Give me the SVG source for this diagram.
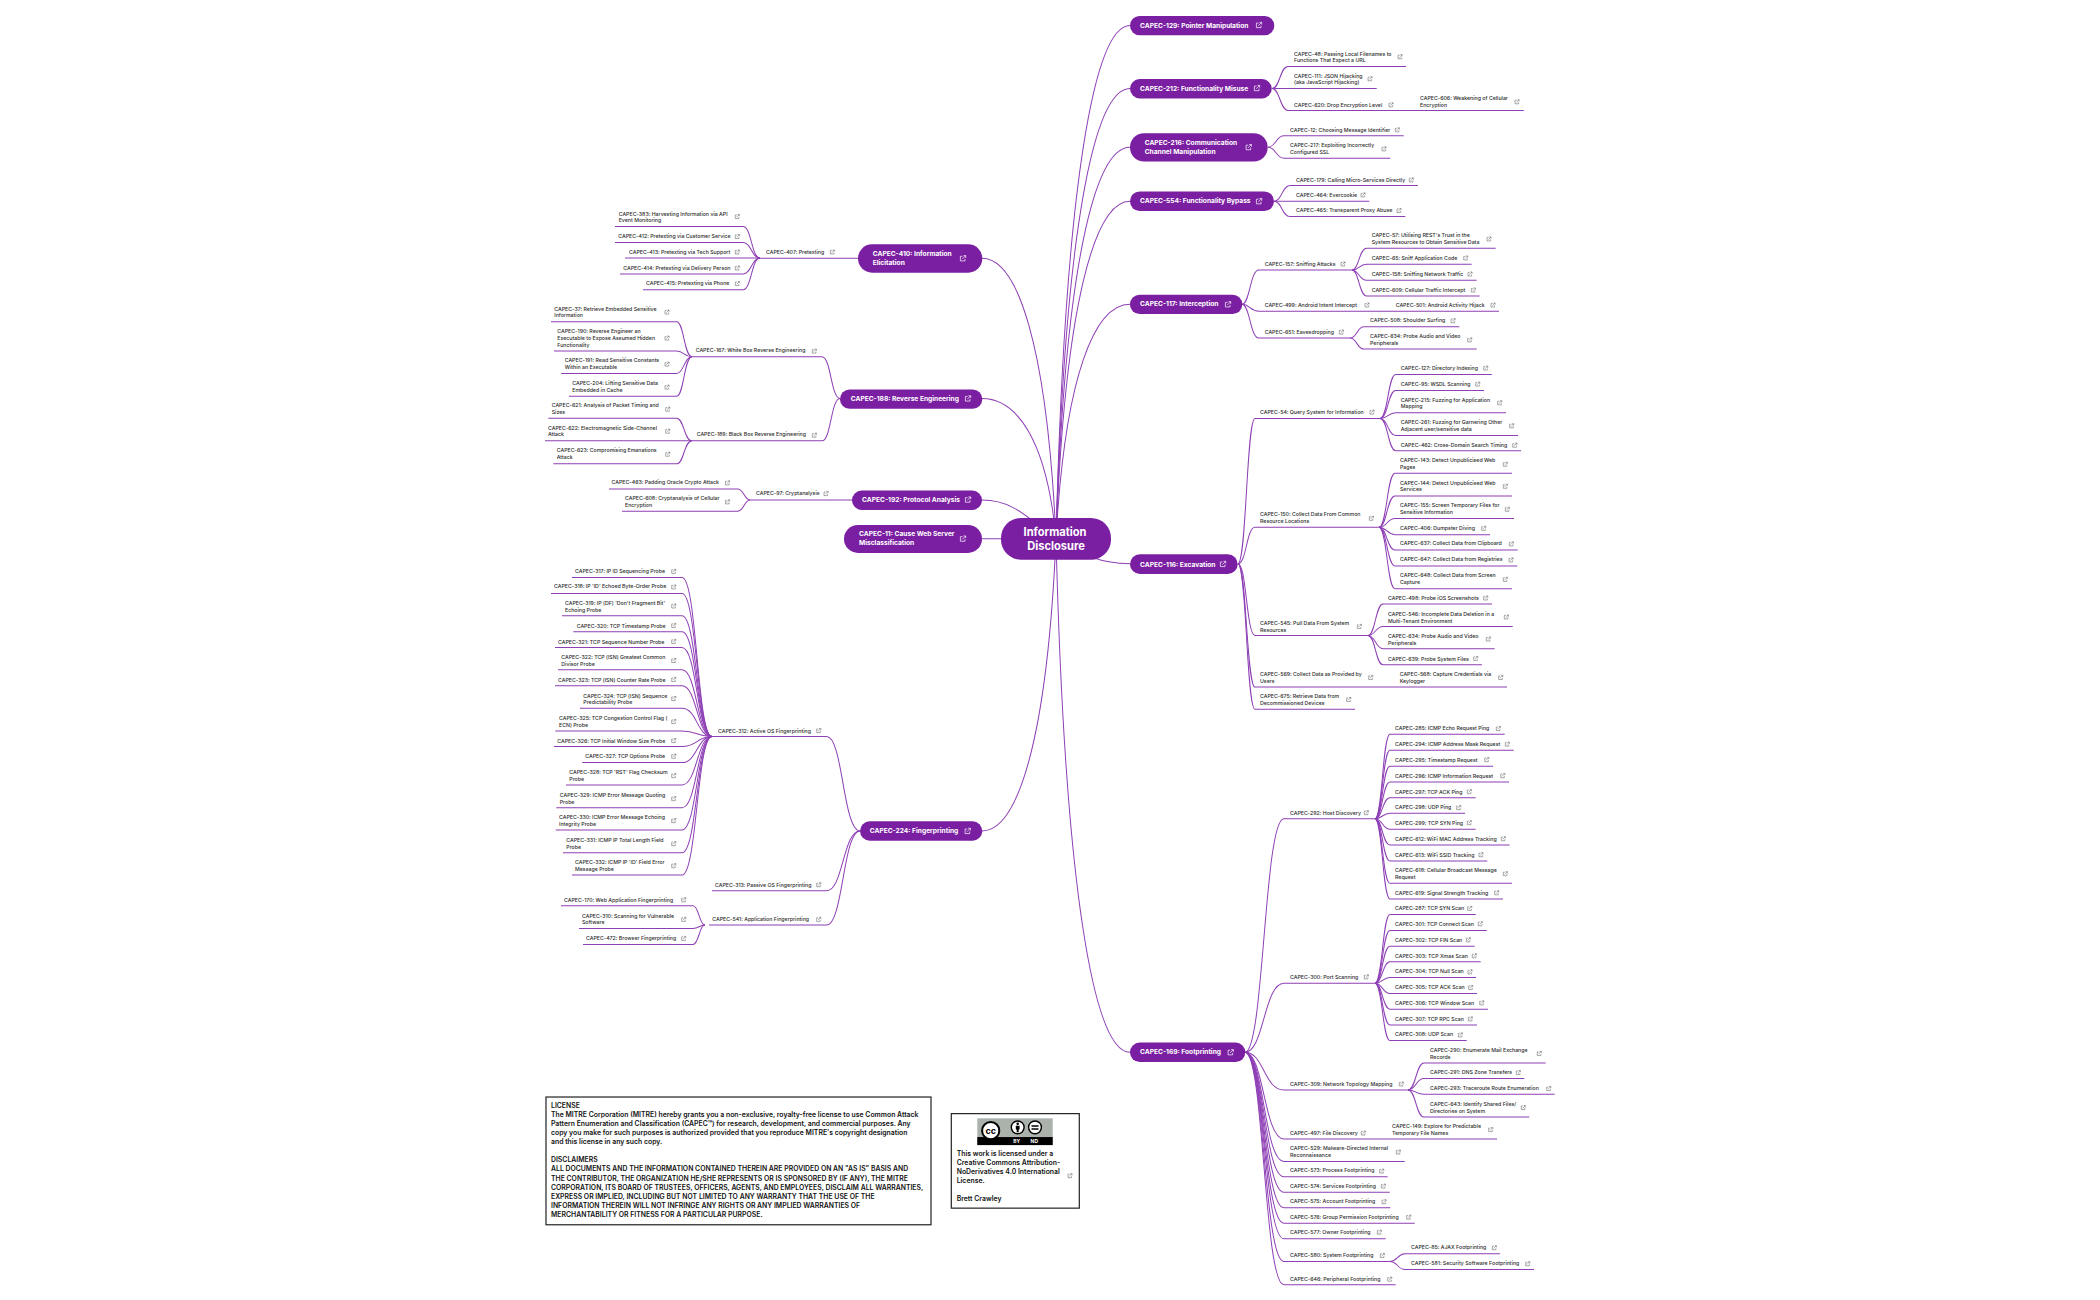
<svg xmlns="http://www.w3.org/2000/svg" width="2100" height="1300" viewBox="0 0 2100 1300">
<style>
text{font-family:"Inter","Noto Sans","Liberation Sans",sans-serif}
.t{font-size:5.24px;font-weight:500;fill:#2b2b2b}
.n{font-size:6.65px;font-weight:700;fill:#fff}
.r{font-size:11.1px;font-weight:700;fill:#fff;text-anchor:middle}
.l{font-size:6.88px;font-weight:600;fill:#111}
.b{fill:#7b1fa2}
.c path{fill:none;stroke:#8e3fb5;stroke-width:1}
.e{fill:none;stroke:#555;stroke-width:.5}
.w{fill:none;stroke:#fff;stroke-width:.7}
.box{fill:#fff;stroke:#222;stroke-width:1.2}
</style>
<defs>
<g id="i"><path d="M-.4-1.6H-2V2H1.6V.4M-.6.6L2-2M.4-2.1H2.1V-.4" class="e"/></g>
<g id="j"><path d="M-.5-2H-2.6V2.6H2V.5M-.7.7L2.6-2.6M.5-2.7H2.7V-.5" class="w"/></g>
</defs>
<rect width="2100" height="1300" fill="#fff"/>
<g id="diagram" transform="scale(1 1.0012)">
<g id="connectors" class="c">
<path d="M1056 538C1065 179 1095 25.5 1130 25.5"/>
<path d="M1056 538C1065 223 1095 88.5 1130 88.5"/>
<path d="M1056 538C1065 264 1095 147 1130 147"/>
<path d="M1056 538C1065 302 1095 201 1130 201"/>
<path d="M1056 538C1065 374 1095 304 1130 304"/>
<path d="M1056 538C1085 555 1100 563 1130 563"/>
<path d="M1056 538C1065 897 1095 1051 1130 1051"/>
<path d="M1056 538C1047 342 1017 258 982 258"/>
<path d="M1056 538C1047 440 1017 398 982 398"/>
<path d="M1056 538C1030 520 1015 499.5 982 499.5"/>
<path d="M1056 538H982"/>
<path d="M1056 538C1047 742 1017 830 982 830"/>
<path d="M1272 88.5C1280 88.5 1280 66.3 1288 66.3H1406"/>
<path d="M1272 88.5C1280 88.5 1280 88.3 1288 88.3H1376.7"/>
<path d="M1272 88.5C1280 88.5 1280 110.3 1288 110.3H1523.7"/>
<path d="M1268 147C1276 147 1276 135.7 1284 135.7H1403.7"/>
<path d="M1268 147C1276 147 1276 158 1284 158H1390.3"/>
<path d="M1274 201C1282 201 1282 185.3 1290 185.3H1417.7"/>
<path d="M1274 201H1369.3"/>
<path d="M1274 201C1282 201 1282 216.3 1290 216.3H1405.3"/>
<path d="M1242 304C1250 304 1250 269.7 1259 269.7H1352"/>
<path d="M1242 304C1250 304 1250 311 1259 311H1499"/>
<path d="M1242 304C1250 304 1250 337.7 1259 337.7H1350"/>
<path d="M1352 269.7C1359 269.7 1359 248 1366.7 248H1495.7"/>
<path d="M1352 269.7C1359 269.7 1359 264 1366.7 264H1471.7"/>
<path d="M1352 269.7C1359 269.7 1359 280 1366.7 280H1476.7"/>
<path d="M1352 269.7C1359 269.7 1359 295.7 1366.7 295.7H1479.7"/>
<path d="M1350 337.7C1357 337.7 1357 326.3 1364 326.3H1459.3"/>
<path d="M1350 337.7C1357 337.7 1357 348.7 1364 348.7H1476.7"/>
<path d="M1238 563C1246.5 563 1246.5 418 1255 418H1380"/>
<path d="M1238 563C1246.5 563 1246.5 526.7 1255 526.7H1379"/>
<path d="M1238 563C1246.5 563 1246.5 634.7 1255 634.7H1368"/>
<path d="M1238 563C1246.5 563 1246.5 686.3 1255 686.3H1507"/>
<path d="M1238 563C1246.5 563 1246.5 708.3 1255 708.3H1355"/>
<path d="M1380 418C1388 418 1388 374 1395.7 374H1491.7"/>
<path d="M1380 418C1388 418 1388 390 1395.7 390H1484"/>
<path d="M1380 418C1388 418 1388 412.3 1395.7 412.3H1506"/>
<path d="M1380 418C1388 418 1388 435 1395.7 435H1518"/>
<path d="M1380 418C1388 418 1388 450.3 1395.7 450.3H1521"/>
<path d="M1379 526.7C1387 526.7 1387 472.7 1395 472.7H1512"/>
<path d="M1379 526.7C1387 526.7 1387 495.3 1395 495.3H1512"/>
<path d="M1379 526.7C1387 526.7 1387 518 1395 518H1514"/>
<path d="M1379 526.7C1387 526.7 1387 534 1395 534H1490"/>
<path d="M1379 526.7C1387 526.7 1387 549.3 1395 549.3H1517.7"/>
<path d="M1379 526.7C1387 526.7 1387 565.3 1395 565.3H1517.3"/>
<path d="M1379 526.7C1387 526.7 1387 588 1395 588H1512"/>
<path d="M1368 634.7C1375.5 634.7 1375.5 603.3 1383 603.3H1492"/>
<path d="M1368 634.7C1375.5 634.7 1375.5 625.7 1383 625.7H1512.7"/>
<path d="M1368 634.7C1375.5 634.7 1375.5 648 1383 648H1494.7"/>
<path d="M1368 634.7C1375.5 634.7 1375.5 664 1383 664H1482"/>
<path d="M1245 1051C1264 1051 1264 817.7 1284 817.7H1375"/>
<path d="M1245 1051C1264 1051 1264 982 1284 982H1375"/>
<path d="M1245 1051C1264 1051 1264 1088.7 1284 1088.7H1408"/>
<path d="M1245 1051C1264 1051 1264 1137.7 1284 1137.7H1497"/>
<path d="M1245 1051C1264 1051 1264 1160 1284 1160H1404.7"/>
<path d="M1245 1051C1264 1051 1264 1175.3 1284 1175.3H1387.7"/>
<path d="M1245 1051C1264 1051 1264 1190.7 1284 1190.7H1389.7"/>
<path d="M1245 1051C1264 1051 1264 1206.3 1284 1206.3H1390.3"/>
<path d="M1245 1051C1264 1051 1264 1221.7 1284 1221.7H1414.7"/>
<path d="M1245 1051C1264 1051 1264 1237.3 1284 1237.3H1385.7"/>
<path d="M1245 1051C1264 1051 1264 1260 1284 1260H1390"/>
<path d="M1245 1051C1264 1051 1264 1283.3 1284 1283.3H1395.7"/>
<path d="M1375 817.7C1382.5 817.7 1382.5 733.3 1390 733.3H1504.7"/>
<path d="M1375 817.7C1382.5 817.7 1382.5 749.3 1390 749.3H1513.7"/>
<path d="M1375 817.7C1382.5 817.7 1382.5 765.3 1390 765.3H1493"/>
<path d="M1375 817.7C1382.5 817.7 1382.5 781 1390 781H1509"/>
<path d="M1375 817.7C1382.5 817.7 1382.5 796.7 1390 796.7H1475.7"/>
<path d="M1375 817.7C1382.5 817.7 1382.5 812.3 1390 812.3H1465"/>
<path d="M1375 817.7C1382.5 817.7 1382.5 828.3 1390 828.3H1475.7"/>
<path d="M1375 817.7C1382.5 817.7 1382.5 844 1390 844H1509.7"/>
<path d="M1375 817.7C1382.5 817.7 1382.5 860 1390 860H1487.3"/>
<path d="M1375 817.7C1382.5 817.7 1382.5 882.3 1390 882.3H1512"/>
<path d="M1375 817.7C1382.5 817.7 1382.5 898 1390 898H1503"/>
<path d="M1375 982C1382.5 982 1382.5 913.3 1390 913.3H1475.7"/>
<path d="M1375 982C1382.5 982 1382.5 929.3 1390 929.3H1486.7"/>
<path d="M1375 982C1382.5 982 1382.5 945 1390 945H1474.7"/>
<path d="M1375 982C1382.5 982 1382.5 960.7 1390 960.7H1480.7"/>
<path d="M1375 982C1382.5 982 1382.5 976.3 1390 976.3H1476"/>
<path d="M1375 982C1382.5 982 1382.5 992.3 1390 992.3H1477"/>
<path d="M1375 982C1382.5 982 1382.5 1008 1390 1008H1488"/>
<path d="M1375 982C1382.5 982 1382.5 1023.7 1390 1023.7H1477"/>
<path d="M1375 982C1382.5 982 1382.5 1039.3 1390 1039.3H1466.7"/>
<path d="M1408 1088.7C1416 1088.7 1416 1061.7 1424 1061.7H1545.7"/>
<path d="M1408 1088.7C1416 1088.7 1416 1077.3 1424 1077.3H1524.3"/>
<path d="M1408 1088.7C1416 1088.7 1416 1093 1424 1093H1554.7"/>
<path d="M1408 1088.7C1416 1088.7 1416 1115.7 1424 1115.7H1529.3"/>
<path d="M1390 1260C1397.5 1260 1397.5 1252.3 1405 1252.3H1500"/>
<path d="M1390 1260C1397.5 1260 1397.5 1268 1405 1268H1534"/>
<path d="M858 258H760"/>
<path d="M760 257.7C751.5 257.7 751.5 226.3 743 226.3H615"/>
<path d="M760 257.7C751.5 257.7 751.5 242.3 743 242.3H615"/>
<path d="M760 257.7H625"/>
<path d="M760 257.7C751.5 257.7 751.5 273.7 743 273.7H620"/>
<path d="M760 257.7C751.5 257.7 751.5 289.3 743 289.3H643"/>
<path d="M840 398C831 398 831 356.3 822 356.3H692"/>
<path d="M840 398C831 398 831 440.3 822 440.3H692"/>
<path d="M692 356.3C684 356.3 684 321.3 676.7 321.3H551"/>
<path d="M692 356.3C684 356.3 684 350.7 676.7 350.7H554"/>
<path d="M692 356.3C684 356.3 684 373 676.7 373H561.3"/>
<path d="M692 356.3C684 356.3 684 395.7 676.7 395.7H569"/>
<path d="M692 440.3C684 440.3 684 417.7 676.7 417.7H548.3"/>
<path d="M692 440.3H545"/>
<path d="M692 440.3C684 440.3 684 463.3 676.7 463.3H553.3"/>
<path d="M852 499.3H750"/>
<path d="M750 499.3C744 499.3 744 488.3 737.5 488.3H609"/>
<path d="M750 499.3C744 499.3 744 510.7 737.5 510.7H622"/>
<path d="M860 830C843 830 843 735.7 826.7 735.7H712"/>
<path d="M860 830C843 830 843 889.7 826.7 889.7H712"/>
<path d="M860 830C843 830 843 924 826.7 924H709"/>
<path d="M712 735.7C697 735.7 697 576.7 682 576.7H572"/>
<path d="M712 735.7C697 735.7 697 592.7 682 592.7H551"/>
<path d="M712 735.7C697 735.7 697 615 682 615H562"/>
<path d="M712 735.7C697 735.7 697 631 682 631H573.3"/>
<path d="M712 735.7C697 735.7 697 646.7 682 646.7H555"/>
<path d="M712 735.7C697 735.7 697 669 682 669H558"/>
<path d="M712 735.7C697 735.7 697 685 682 685H555"/>
<path d="M712 735.7C697 735.7 697 707.3 682 707.3H580"/>
<path d="M712 735.7C697 735.7 697 730 682 730H555.3"/>
<path d="M712 735.7C697 735.7 697 745.7 682 745.7H554"/>
<path d="M712 735.7C697 735.7 697 761.7 682 761.7H582.3"/>
<path d="M712 735.7C697 735.7 697 784 682 784H566"/>
<path d="M712 735.7C697 735.7 697 806.7 682 806.7H556.3"/>
<path d="M712 735.7C697 735.7 697 829 682 829H555.7"/>
<path d="M712 735.7C697 735.7 697 851.7 682 851.7H563"/>
<path d="M712 735.7C697 735.7 697 874 682 874H572"/>
<path d="M705 924C699 924 699 904.7 693 904.7H561"/>
<path d="M705 924C699 924 699 927.3 693 927.3H579"/>
<path d="M705 924C699 924 699 943.3 693 943.3H583"/>
</g>
<g id="root"><rect class="b" x="1001" y="517.3" width="110" height="41.7" rx="20"/><text class="r" x="1055" y="535.5">Information</text><text class="r" x="1056" y="549">Disclosure</text></g>
<g id="n129"><rect class="b" x="1130" y="16" width="144.3" height="19.3" rx="9.6"/><text class="n" x="1140" y="27.8">CAPEC-129: Pointer Manipulation</text><use href="#j" x="1259" y="25"/></g>
<g id="n212"><rect class="b" x="1130" y="79" width="141.7" height="19.3" rx="9.6"/><text class="n" x="1140" y="90.8">CAPEC-212: Functionality Misuse</text><use href="#j" x="1257" y="88"/></g>
<g id="n216"><rect class="b" x="1130" y="133" width="137.7" height="28.3" rx="14"/><text class="n" x="1144.7" y="144.7">CAPEC-216: Communication</text><text class="n" x="1144.7" y="153.7">Channel Manipulation</text><use href="#j" x="1248.7" y="147"/></g>
<g id="n554"><rect class="b" x="1130" y="191.3" width="144" height="19.4" rx="9.6"/><text class="n" x="1140" y="203">CAPEC-554: Functionality Bypass</text><use href="#j" x="1259" y="201"/></g>
<g id="n117"><rect class="b" x="1130" y="294.3" width="112.3" height="19.4" rx="9.6"/><text class="n" x="1140" y="306">CAPEC-117: Interception</text><use href="#j" x="1228" y="304"/></g>
<g id="n116"><rect class="b" x="1130" y="553.7" width="107.7" height="19.6" rx="9.8"/><text class="n" x="1140" y="566">CAPEC-116: Excavation</text><use href="#j" x="1223" y="563.3"/></g>
<g id="n169"><rect class="b" x="1130" y="1041.3" width="115.3" height="19.4" rx="9.7"/><text class="n" x="1140" y="1052.8">CAPEC-169: Footprinting</text><use href="#j" x="1230.7" y="1051"/></g>
<g id="n410"><rect class="b" x="858" y="244" width="124.3" height="28.3" rx="14"/><text class="n" x="872.7" y="255.7">CAPEC-410: Information</text><text class="n" x="872.7" y="264.7">Elicitation</text><use href="#j" x="963" y="258"/></g>
<g id="n188"><rect class="b" x="840" y="389" width="142.3" height="19.3" rx="9.6"/><text class="n" x="850.7" y="400.7">CAPEC-188: Reverse Engineering</text><use href="#j" x="968" y="398"/></g>
<g id="n192"><rect class="b" x="852" y="490" width="130" height="19.3" rx="9.6"/><text class="n" x="862" y="501.7">CAPEC-192: Protocol Analysis</text><use href="#j" x="968" y="499"/></g>
<g id="n11"><rect class="b" x="844" y="524.3" width="138" height="28" rx="14"/><text class="n" x="859" y="535.7">CAPEC-11: Cause Web Server</text><text class="n" x="859" y="544.7">Misclassification</text><use href="#j" x="963" y="538"/></g>
<g id="n224"><rect class="b" x="860" y="820.3" width="122.3" height="19.4" rx="9.7"/><text class="n" x="869.7" y="832">CAPEC-224: Fingerprinting</text><use href="#j" x="967.7" y="830"/></g>
<g id="n48"><text class="t" x="1294" y="55.8">CAPEC-48: Passing Local Filenames to</text><text class="t" x="1294" y="61.8">Functions That Expect a URL</text><use href="#i" x="1400" y="56.7"/></g>
<g id="n111"><text class="t" x="1294" y="77.8">CAPEC-111: JSON Hijacking</text><text class="t" x="1294" y="83.8">(aka JavaScript Hijacking)</text><use href="#i" x="1370" y="78.7"/></g>
<g id="n620"><text class="t" x="1294" y="106.8">CAPEC-620: Drop Encryption Level</text><use href="#i" x="1391" y="104.7"/></g>
<g id="n606"><text class="t" x="1420" y="99.8">CAPEC-606: Weakening of Cellular</text><text class="t" x="1420" y="106.8">Encryption</text><use href="#i" x="1517" y="101.7"/></g>
<g id="n12"><text class="t" x="1290" y="131.8">CAPEC-12: Choosing Message Identifier</text><use href="#i" x="1397.3" y="129.7"/></g>
<g id="n217"><text class="t" x="1290" y="146.8">CAPEC-217: Exploiting Incorrectly</text><text class="t" x="1290" y="153.8">Configured SSL</text><use href="#i" x="1384" y="148.7"/></g>
<g id="n179"><text class="t" x="1296" y="181.8">CAPEC-179: Calling Micro-Services Directly</text><use href="#i" x="1411.3" y="179.7"/></g>
<g id="n464"><text class="t" x="1296" y="196.8">CAPEC-464: Evercookie</text><use href="#i" x="1363" y="194.7"/></g>
<g id="n465"><text class="t" x="1296" y="211.8">CAPEC-465: Transparent Proxy Abuse</text><use href="#i" x="1399" y="210.3"/></g>
<g id="n157"><text class="t" x="1264.7" y="265.8">CAPEC-157: Sniffing Attacks</text><use href="#i" x="1343" y="263.7"/></g>
<g id="n57"><text class="t" x="1371.7" y="236.8">CAPEC-57: Utilising REST's Trust in the</text><text class="t" x="1371.7" y="243.8">System Resources to Obtain Sensitive Data</text><use href="#i" x="1489" y="238.7"/></g>
<g id="n65"><text class="t" x="1371.7" y="259.8">CAPEC-65: Sniff Application Code</text><use href="#i" x="1465.7" y="257.7"/></g>
<g id="n158"><text class="t" x="1371.7" y="275.8">CAPEC-158: Sniffing Network Traffic</text><use href="#i" x="1470" y="273.7"/></g>
<g id="n609"><text class="t" x="1371.7" y="291.8">CAPEC-609: Cellular Traffic Intercept</text><use href="#i" x="1473.3" y="289.7"/></g>
<g id="n499"><text class="t" x="1264.7" y="306.8">CAPEC-499: Android Intent Intercept</text><use href="#i" x="1367" y="304.7"/></g>
<g id="n501"><text class="t" x="1395.7" y="306.8">CAPEC-501: Android Activity Hijack</text><use href="#i" x="1493" y="304.7"/></g>
<g id="n651"><text class="t" x="1264.7" y="333.8">CAPEC-651: Eavesdropping</text><use href="#i" x="1341.3" y="331.7"/></g>
<g id="n508"><text class="t" x="1370" y="321.8">CAPEC-508: Shoulder Surfing</text><use href="#i" x="1453" y="320.3"/></g>
<g id="n634a"><text class="t" x="1370" y="337.8">CAPEC-634: Probe Audio and Video</text><text class="t" x="1370" y="344.8">Peripherals</text><use href="#i" x="1469.7" y="339.5"/></g>
<g id="n54"><text class="t" x="1260" y="413.8">CAPEC-54: Query System for Information</text><use href="#i" x="1372" y="411.7"/></g>
<g id="n127"><text class="t" x="1400.7" y="369.8">CAPEC-127: Directory Indexing</text><use href="#i" x="1485.7" y="367.7"/></g>
<g id="n95"><text class="t" x="1400.7" y="385.8">CAPEC-95: WSDL Scanning</text><use href="#i" x="1477.7" y="383.7"/></g>
<g id="n215"><text class="t" x="1400.7" y="401.8">CAPEC-215: Fuzzing for Application</text><text class="t" x="1400.7" y="407.8">Mapping</text><use href="#i" x="1499.7" y="402.3"/></g>
<g id="n261"><text class="t" x="1400.7" y="423.8">CAPEC-261: Fuzzing for Garnering Other</text><text class="t" x="1400.7" y="430.8">Adjacent user/sensitive data</text><use href="#i" x="1511.7" y="425.3"/></g>
<g id="n462"><text class="t" x="1400.7" y="446.8">CAPEC-462: Cross-Domain Search Timing</text><use href="#i" x="1514.7" y="444.7"/></g>
<g id="n150"><text class="t" x="1260" y="515.8">CAPEC-150: Collect Data From Common</text><text class="t" x="1260" y="522.8">Resource Locations</text><use href="#i" x="1371.3" y="517.7"/></g>
<g id="n143"><text class="t" x="1400" y="461.8">CAPEC-143: Detect Unpublicised Web</text><text class="t" x="1400" y="468.8">Pages</text><use href="#i" x="1505.3" y="463.7"/></g>
<g id="n144"><text class="t" x="1400" y="484.8">CAPEC-144: Detect Unpublicised Web</text><text class="t" x="1400" y="490.8">Services</text><use href="#i" x="1505.3" y="485.7"/></g>
<g id="n155"><text class="t" x="1400" y="506.8">CAPEC-155: Screen Temporary Files for</text><text class="t" x="1400" y="513.8">Sensitive Information</text><use href="#i" x="1507.3" y="508.7"/></g>
<g id="n406"><text class="t" x="1400" y="529.8">CAPEC-406: Dumpster Diving</text><use href="#i" x="1483.7" y="527.7"/></g>
<g id="n637"><text class="t" x="1400" y="544.8">CAPEC-637: Collect Data from Clipboard</text><use href="#i" x="1511.3" y="543.3"/></g>
<g id="n647"><text class="t" x="1400" y="560.8">CAPEC-647: Collect Data from Registries</text><use href="#i" x="1511" y="559.3"/></g>
<g id="n648"><text class="t" x="1400" y="576.8">CAPEC-648: Collect Data from Screen</text><text class="t" x="1400" y="583.8">Capture</text><use href="#i" x="1505.3" y="578.7"/></g>
<g id="n545"><text class="t" x="1260" y="623.8">CAPEC-545: Pull Data From System</text><text class="t" x="1260" y="630.8">Resources</text><use href="#i" x="1359.3" y="625.7"/></g>
<g id="n498"><text class="t" x="1388" y="598.8">CAPEC-498: Probe iOS Screenshots</text><use href="#i" x="1485.7" y="597.3"/></g>
<g id="n546"><text class="t" x="1388" y="614.8">CAPEC-546: Incomplete Data Deletion in a</text><text class="t" x="1388" y="621.8">Multi-Tenant Environment</text><use href="#i" x="1506.3" y="616.3"/></g>
<g id="n634b"><text class="t" x="1388" y="636.8">CAPEC-634: Probe Audio and Video</text><text class="t" x="1388" y="643.8">Peripherals</text><use href="#i" x="1488.3" y="638.3"/></g>
<g id="n639"><text class="t" x="1388" y="659.8">CAPEC-639: Probe System Files</text><use href="#i" x="1475.7" y="657.7"/></g>
<g id="n569"><text class="t" x="1260" y="674.8">CAPEC-569: Collect Data as Provided by</text><text class="t" x="1260" y="681.8">Users</text><use href="#i" x="1370.7" y="676.7"/></g>
<g id="n568"><text class="t" x="1399.7" y="674.8">CAPEC-568: Capture Credentials via</text><text class="t" x="1399.7" y="681.8">Keylogger</text><use href="#i" x="1500.7" y="676.7"/></g>
<g id="n675"><text class="t" x="1260" y="696.8">CAPEC-675: Retrieve Data from</text><text class="t" x="1260" y="703.8">Decommissioned Devices</text><use href="#i" x="1348.7" y="698.7"/></g>
<g id="n292"><text class="t" x="1290" y="813.8">CAPEC-292: Host Discovery</text><use href="#i" x="1366.3" y="811.7"/></g>
<g id="n285"><text class="t" x="1395" y="728.8">CAPEC-285: ICMP Echo Request Ping</text><use href="#i" x="1498.3" y="727.7"/></g>
<g id="n294"><text class="t" x="1395" y="744.8">CAPEC-294: ICMP Address Mask Request</text><use href="#i" x="1507.3" y="743.3"/></g>
<g id="n295"><text class="t" x="1395" y="760.8">CAPEC-295: Timestamp Request</text><use href="#i" x="1486.7" y="758.7"/></g>
<g id="n296"><text class="t" x="1395" y="776.8">CAPEC-296: ICMP Information Request</text><use href="#i" x="1502.7" y="774.7"/></g>
<g id="n297"><text class="t" x="1395" y="792.8">CAPEC-297: TCP ACK Ping</text><use href="#i" x="1469.3" y="790.7"/></g>
<g id="n298"><text class="t" x="1395" y="807.8">CAPEC-298: UDP Ping</text><use href="#i" x="1458.7" y="806.7"/></g>
<g id="n299"><text class="t" x="1395" y="823.8">CAPEC-299: TCP SYN Ping</text><use href="#i" x="1469.3" y="821.7"/></g>
<g id="n612"><text class="t" x="1395" y="839.8">CAPEC-612: WiFi MAC Address Tracking</text><use href="#i" x="1503.3" y="837.7"/></g>
<g id="n613"><text class="t" x="1395" y="855.8">CAPEC-613: WiFi SSID Tracking</text><use href="#i" x="1481" y="853.7"/></g>
<g id="n618"><text class="t" x="1395" y="870.8">CAPEC-618: Cellular Broadcast Message</text><text class="t" x="1395" y="877.8">Request</text><use href="#i" x="1505.3" y="872.7"/></g>
<g id="n619"><text class="t" x="1395" y="893.8">CAPEC-619: Signal Strength Tracking</text><use href="#i" x="1496.7" y="891.7"/></g>
<g id="n300"><text class="t" x="1290" y="977.8">CAPEC-300: Port Scanning</text><use href="#i" x="1366.3" y="975.7"/></g>
<g id="n287"><text class="t" x="1395" y="908.8">CAPEC-287: TCP SYN Scan</text><use href="#i" x="1469.7" y="907.3"/></g>
<g id="n301"><text class="t" x="1395" y="924.8">CAPEC-301: TCP Connect Scan</text><use href="#i" x="1480.3" y="922.7"/></g>
<g id="n302"><text class="t" x="1395" y="940.8">CAPEC-302: TCP FIN Scan</text><use href="#i" x="1468.3" y="938.7"/></g>
<g id="n303"><text class="t" x="1395" y="956.8">CAPEC-303: TCP Xmas Scan</text><use href="#i" x="1474.3" y="954.7"/></g>
<g id="n304"><text class="t" x="1395" y="971.8">CAPEC-304: TCP Null Scan</text><use href="#i" x="1470" y="970.7"/></g>
<g id="n305"><text class="t" x="1395" y="987.8">CAPEC-305: TCP ACK Scan</text><use href="#i" x="1470.7" y="986.3"/></g>
<g id="n306"><text class="t" x="1395" y="1003.8">CAPEC-306: TCP Window Scan</text><use href="#i" x="1481.7" y="1001.7"/></g>
<g id="n307"><text class="t" x="1395" y="1019.8">CAPEC-307: TCP RPC Scan</text><use href="#i" x="1470.3" y="1017.7"/></g>
<g id="n308"><text class="t" x="1395" y="1034.8">CAPEC-308: UDP Scan</text><use href="#i" x="1460.3" y="1033.7"/></g>
<g id="n309"><text class="t" x="1290" y="1084.8">CAPEC-309: Network Topology Mapping</text><use href="#i" x="1401.3" y="1082.7"/></g>
<g id="n290"><text class="t" x="1430" y="1050.8">CAPEC-290: Enumerate Mail Exchange</text><text class="t" x="1430" y="1057.8">Records</text><use href="#i" x="1539.3" y="1052.3"/></g>
<g id="n291"><text class="t" x="1430" y="1072.8">CAPEC-291: DNS Zone Transfers</text><use href="#i" x="1518.3" y="1071.3"/></g>
<g id="n293"><text class="t" x="1430" y="1088.8">CAPEC-293: Traceroute Route Enumeration</text><use href="#i" x="1548.7" y="1087.3"/></g>
<g id="n643"><text class="t" x="1430" y="1104.8">CAPEC-643: Identify Shared Files/</text><text class="t" x="1430" y="1111.8">Directories on System</text><use href="#i" x="1523.3" y="1106.3"/></g>
<g id="n497"><text class="t" x="1290" y="1133.8">CAPEC-497: File Discovery</text><use href="#i" x="1363.3" y="1131.7"/></g>
<g id="n149"><text class="t" x="1392" y="1126.8">CAPEC-149: Explore for Predictable</text><text class="t" x="1392" y="1133.8">Temporary File Names</text><use href="#i" x="1490.7" y="1128.3"/></g>
<g id="n529"><text class="t" x="1290" y="1148.8">CAPEC-529: Malware-Directed Internal</text><text class="t" x="1290" y="1155.8">Reconnaissance</text><use href="#i" x="1398.3" y="1150.7"/></g>
<g id="n573"><text class="t" x="1290" y="1170.8">CAPEC-573: Process Footprinting</text><use href="#i" x="1381.7" y="1169.7"/></g>
<g id="n574"><text class="t" x="1290" y="1186.8">CAPEC-574: Services Footprinting</text><use href="#i" x="1383.3" y="1184.7"/></g>
<g id="n575"><text class="t" x="1290" y="1201.8">CAPEC-575: Account Footprinting</text><use href="#i" x="1384" y="1200.3"/></g>
<g id="n576"><text class="t" x="1290" y="1217.8">CAPEC-576: Group Permission Footprinting</text><use href="#i" x="1408.7" y="1215.7"/></g>
<g id="n577"><text class="t" x="1290" y="1232.8">CAPEC-577: Owner Footprinting</text><use href="#i" x="1379.3" y="1230.7"/></g>
<g id="n580"><text class="t" x="1290" y="1255.8">CAPEC-580: System Footprinting</text><use href="#i" x="1382.3" y="1254"/></g>
<g id="n85"><text class="t" x="1411" y="1247.8">CAPEC-85: AJAX Footprinting</text><use href="#i" x="1494.3" y="1246.3"/></g>
<g id="n581"><text class="t" x="1411" y="1263.8">CAPEC-581: Security Software Footprinting</text><use href="#i" x="1527.7" y="1262.3"/></g>
<g id="n646"><text class="t" x="1290" y="1279.8">CAPEC-646: Peripheral Footprinting</text><use href="#i" x="1389.7" y="1277.7"/></g>
<g id="n407"><text class="t" x="766" y="253.8">CAPEC-407: Pretexting</text><use href="#i" x="832.3" y="251.7"/></g>
<g id="n383"><text class="t" x="618.7" y="215.8">CAPEC-383: Harvesting Information via API</text><text class="t" x="618.7" y="221.8">Event Monitoring</text><use href="#i" x="737.3" y="216.3"/></g>
<g id="n412"><text class="t" x="618.3" y="237.8">CAPEC-412: Pretexting via Customer Service</text><use href="#i" x="737.3" y="236.3"/></g>
<g id="n413"><text class="t" x="629" y="253.8">CAPEC-413: Pretexting via Tech Support</text><use href="#i" x="737.3" y="251.7"/></g>
<g id="n414"><text class="t" x="623.3" y="269.8">CAPEC-414: Pretexting via Delivery Person</text><use href="#i" x="737.3" y="267.7"/></g>
<g id="n415"><text class="t" x="646" y="284.8">CAPEC-415: Pretexting via Phone</text><use href="#i" x="737.3" y="283.3"/></g>
<g id="n167"><text class="t" x="695.7" y="351.8">CAPEC-167: White Box Reverse Engineering</text><use href="#i" x="814.3" y="350.7"/></g>
<g id="n37"><text class="t" x="554.3" y="310.8">CAPEC-37: Retrieve Embedded Sensitive</text><text class="t" x="554.3" y="316.8">Information</text><use href="#i" x="667" y="311.7"/></g>
<g id="n190"><text class="t" x="557.3" y="332.8">CAPEC-190: Reverse Engineer an</text><text class="t" x="557.3" y="339.8">Executable to Expose Assumed Hidden</text><text class="t" x="557.3" y="346.8">Functionality</text><use href="#i" x="667" y="337.7"/></g>
<g id="n191"><text class="t" x="564.7" y="361.8">CAPEC-191: Read Sensitive Constants</text><text class="t" x="564.7" y="368.8">Within an Executable</text><use href="#i" x="667" y="363.7"/></g>
<g id="n204"><text class="t" x="572.3" y="384.8">CAPEC-204: Lifting Sensitive Data</text><text class="t" x="572.3" y="391.8">Embedded in Cache</text><use href="#i" x="667" y="386.7"/></g>
<g id="n189"><text class="t" x="696.7" y="435.8">CAPEC-189: Black Box Reverse Engineering</text><use href="#i" x="814.3" y="434.7"/></g>
<g id="n621"><text class="t" x="551.7" y="406.8">CAPEC-621: Analysis of Packet Timing and</text><text class="t" x="551.7" y="413.8">Sizes</text><use href="#i" x="667.7" y="408.7"/></g>
<g id="n622"><text class="t" x="548" y="429.8">CAPEC-622: Electromagnetic Side-Channel</text><text class="t" x="548" y="435.8">Attack</text><use href="#i" x="667.7" y="430.7"/></g>
<g id="n623"><text class="t" x="556.7" y="451.8">CAPEC-623: Compromising Emanations</text><text class="t" x="556.7" y="458.8">Attack</text><use href="#i" x="667.7" y="453.7"/></g>
<g id="n97"><text class="t" x="756" y="494.8">CAPEC-97: Cryptanalysis</text><use href="#i" x="826" y="493"/></g>
<g id="n463"><text class="t" x="611.6" y="483.8">CAPEC-463: Padding Oracle Crypto Attack</text><use href="#i" x="727.5" y="482.3"/></g>
<g id="n608"><text class="t" x="625" y="499.8">CAPEC-608: Cryptanalysis of Cellular</text><text class="t" x="625" y="506.8">Encryption</text><use href="#i" x="727.5" y="501.3"/></g>
<g id="n312"><text class="t" x="718" y="731.8">CAPEC-312: Active OS Fingerprinting</text><use href="#i" x="818.7" y="729.7"/></g>
<g id="n317"><text class="t" x="575" y="572.8">CAPEC-317: IP ID Sequencing Probe</text><use href="#i" x="673.7" y="570.7"/></g>
<g id="n318"><text class="t" x="554" y="587.8">CAPEC-318: IP 'ID' Echoed Byte-Order Probe</text><use href="#i" x="673.7" y="586.3"/></g>
<g id="n319"><text class="t" x="565" y="603.8">CAPEC-319: IP (DF) 'Don't Fragment Bit'</text><text class="t" x="565" y="610.8">Echoing Probe</text><use href="#i" x="673.7" y="605.3"/></g>
<g id="n320"><text class="t" x="576.7" y="626.8">CAPEC-320: TCP Timestamp Probe</text><use href="#i" x="673.7" y="624.7"/></g>
<g id="n321"><text class="t" x="558" y="642.8">CAPEC-321:  TCP Sequence Number Probe</text><use href="#i" x="673.7" y="640.7"/></g>
<g id="n322"><text class="t" x="561.3" y="657.8">CAPEC-322: TCP (ISN) Greatest Common</text><text class="t" x="561.3" y="664.8">Divisor Probe</text><use href="#i" x="673.7" y="659.7"/></g>
<g id="n323"><text class="t" x="558" y="680.8">CAPEC-323:  TCP (ISN) Counter Rate Probe</text><use href="#i" x="673.7" y="678.7"/></g>
<g id="n324"><text class="t" x="583.3" y="696.8">CAPEC-324: TCP (ISN) Sequence</text><text class="t" x="583.3" y="702.8">Predictability Probe</text><use href="#i" x="673.7" y="697.7"/></g>
<g id="n325"><text class="t" x="559" y="718.8">CAPEC-325: TCP Congestion Control Flag (</text><text class="t" x="559" y="725.8">ECN) Probe</text><use href="#i" x="673.7" y="720.7"/></g>
<g id="n326"><text class="t" x="557.3" y="741.8">CAPEC-326: TCP Initial Window Size Probe</text><use href="#i" x="673.7" y="739.7"/></g>
<g id="n327"><text class="t" x="585.3" y="756.8">CAPEC-327:  TCP Options Probe</text><use href="#i" x="673.7" y="755.3"/></g>
<g id="n328"><text class="t" x="569.3" y="772.8">CAPEC-328: TCP 'RST' Flag Checksum</text><text class="t" x="569.3" y="779.8">Probe</text><use href="#i" x="673.7" y="774.7"/></g>
<g id="n329"><text class="t" x="559.7" y="795.8">CAPEC-329: ICMP Error Message Quoting</text><text class="t" x="559.7" y="802.8">Probe</text><use href="#i" x="673.7" y="797.7"/></g>
<g id="n330"><text class="t" x="559" y="817.8">CAPEC-330: ICMP Error Message Echoing</text><text class="t" x="559" y="824.8">Integrity Probe</text><use href="#i" x="673.7" y="819.7"/></g>
<g id="n331"><text class="t" x="566.3" y="840.8">CAPEC-331:  ICMP IP Total Length Field</text><text class="t" x="566.3" y="847.8">Probe</text><use href="#i" x="673.7" y="842.7"/></g>
<g id="n332"><text class="t" x="575" y="862.8">CAPEC-332:  ICMP IP 'ID' Field Error</text><text class="t" x="575" y="869.8">Message Probe</text><use href="#i" x="673.7" y="864.7"/></g>
<g id="n313"><text class="t" x="715" y="885.8">CAPEC-313: Passive OS Fingerprinting</text><use href="#i" x="818.7" y="883.7"/></g>
<g id="n541"><text class="t" x="712.3" y="919.8">CAPEC-541: Application Fingerprinting</text><use href="#i" x="818.7" y="918.3"/></g>
<g id="n170"><text class="t" x="564" y="900.8">CAPEC-170: Web Application Fingerprinting</text><use href="#i" x="683.7" y="898.7"/></g>
<g id="n310"><text class="t" x="582" y="916.8">CAPEC-310: Scanning for Vulnerable</text><text class="t" x="582" y="922.8">Software</text><use href="#i" x="683.7" y="918.3"/></g>
<g id="n472"><text class="t" x="586" y="938.8">CAPEC-472: Browser Fingerprinting</text><use href="#i" x="683.7" y="937.3"/></g>
<g id="license"><rect class="box" x="546" y="1095.7" width="385" height="127.6"/>
<text class="l" x="551" y="1106.9">LICENSE</text>
<text class="l" x="551" y="1115.9">The MITRE Corporation (MITRE) hereby grants you a non-exclusive, royalty-free license to use Common Attack</text>
<text class="l" x="551" y="1124.9">Pattern Enumeration and Classification (CAPEC™) for research, development, and commercial purposes. Any</text>
<text class="l" x="551" y="1133.9">copy you make for such purposes is authorized provided that you reproduce MITRE's copyright designation</text>
<text class="l" x="551" y="1142.9">and this license in any such copy.</text>
<text class="l" x="551" y="1160.9">DISCLAIMERS</text>
<text class="l" x="551" y="1169.9">ALL DOCUMENTS AND THE INFORMATION CONTAINED THEREIN ARE PROVIDED ON AN "AS IS" BASIS AND</text>
<text class="l" x="551" y="1179.5">THE CONTRIBUTOR, THE ORGANIZATION HE/SHE REPRESENTS OR IS SPONSORED BY (IF ANY), THE MITRE</text>
<text class="l" x="551" y="1188.9">CORPORATION, ITS BOARD OF TRUSTEES, OFFICERS, AGENTS, AND EMPLOYEES, DISCLAIM ALL WARRANTIES,</text>
<text class="l" x="551" y="1197.9">EXPRESS OR IMPLIED, INCLUDING BUT NOT LIMITED TO ANY WARRANTY THAT THE USE OF THE</text>
<text class="l" x="551" y="1206.9">INFORMATION THEREIN WILL NOT INFRINGE ANY RIGHTS OR ANY IMPLIED WARRANTIES OF</text>
<text class="l" x="551" y="1215.9">MERCHANTABILITY OR FITNESS FOR A PARTICULAR PURPOSE.</text>
</g>
<g id="cc"><rect class="box" x="951.3" y="1112.3" width="128" height="94.4"/>
<rect x="977.3" y="1117" width="75.4" height="26.7" fill="#aab2ab"/>
<rect x="977.3" y="1135.7" width="75.4" height="8" fill="#000"/>
<circle cx="990.7" cy="1129.3" r="8.6" fill="#fff" stroke="#000" stroke-width="2"/>
<text x="990.7" y="1132.5" font-size="9" font-weight="700" text-anchor="middle" fill="#000">cc</text>
<circle cx="1017.7" cy="1126" r="6.4" fill="#fff" stroke="#000" stroke-width="1.4"/>
<circle cx="1017.7" cy="1122.5" r="1.3" fill="#000"/>
<path d="M1015.8 1124.5H1019.6V1128.2H1018.7V1131H1016.7V1128.2H1015.8Z" fill="#000"/>
<circle cx="1035" cy="1126" r="6.4" fill="#fff" stroke="#000" stroke-width="1.4"/>
<path d="M1031.5 1123.8H1038.5V1125.3H1031.5ZM1031.5 1126.8H1038.5V1128.3H1031.5Z" fill="#000"/>
<text x="1016.7" y="1142" font-size="5" font-weight="700" text-anchor="middle" fill="#fff">BY</text>
<text x="1034.3" y="1142" font-size="5" font-weight="700" text-anchor="middle" fill="#fff">ND</text>
<text class="l" x="956.7" y="1154.2">This work is licensed under a</text>
<text class="l" x="956.7" y="1163.2">Creative Commons Attribution-</text>
<text class="l" x="956.7" y="1172.2">NoDerivatives 4.0 International</text>
<text class="l" x="956.7" y="1181.2">License.</text>
<text class="l" x="956.7" y="1199.2">Brett Crawley</text>
<use href="#i" x="1070" y="1174.3"/></g>
</g>
</svg>
